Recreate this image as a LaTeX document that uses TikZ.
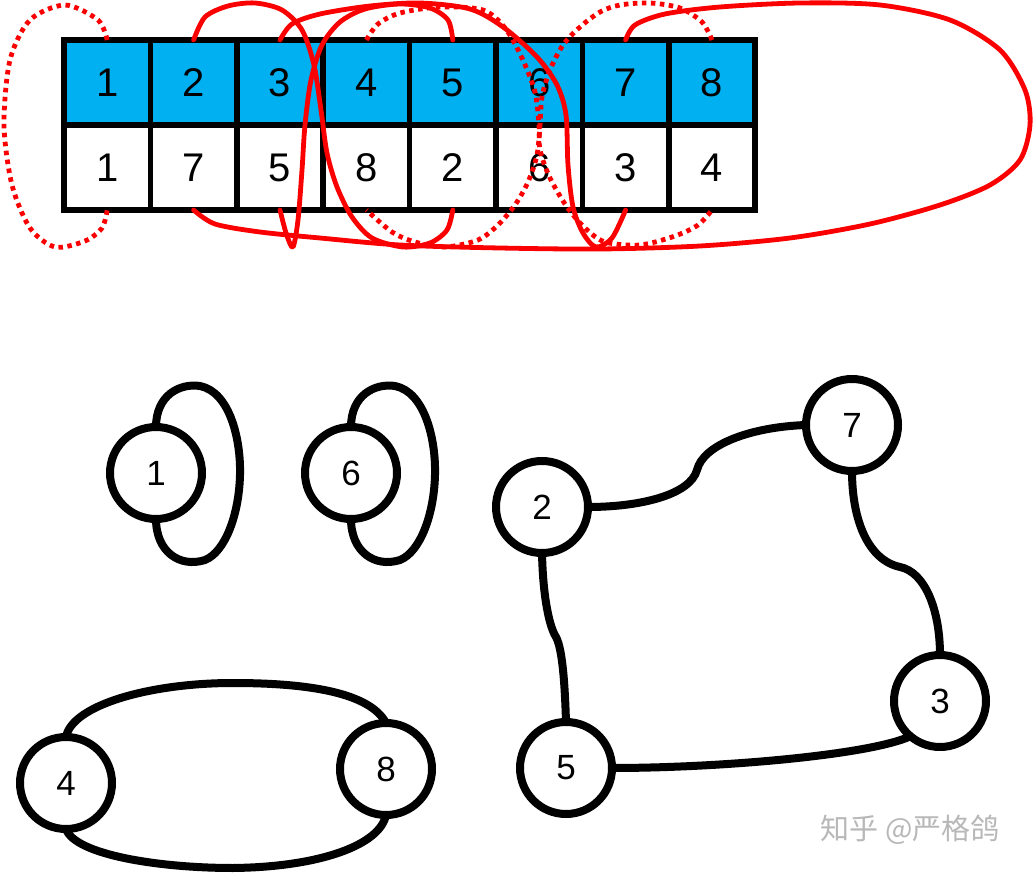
\documentclass[tikz,border=0pt]{standalone}
\usepackage{fontspec}
\setmainfont{Liberation Sans}
\newfontfamily\cjkfont{Noto Sans CJK SC}
\definecolor{cellblue}{RGB}{0,176,240}
\definecolor{loopred}{RGB}{250,0,0}
\begin{document}
\begin{tikzpicture}[x=1pt,y=-1pt,
  cell/.style={draw=black, line width=5.5pt, minimum width=86.4pt, minimum height=85pt, inner sep=0pt, outer sep=0pt, font=\fontsize{40}{42}\selectfont},
  topcell/.style={cell, fill=cellblue},
  botcell/.style={cell, fill=white},
  solidloop/.style={draw=loopred, line width=4.8pt, line cap=round, line join=round},
  dotloop/.style={draw=loopred, line width=4.8pt, dash pattern=on 4.5pt off 4.5pt},
  vert/.style={circle, draw=black, line width=8pt, minimum size=92pt, inner sep=0pt, outer sep=0pt, fill=white, font=\fontsize{35}{37}\selectfont},
  gedge/.style={draw=black, line width=8pt, line cap=round},
]
\useasboundingbox (0,0) rectangle (1034,874);
\fill[white] (0,0) rectangle (1034,874);

% table
\foreach \i/\v in {1/1,2/7,3/5,4/8,5/2,6/6,7/3,8/4} {
  \node[topcell] (t\i) at ({64+86.4*(\i-0.5)},82.5) {\i};
  \node[botcell] (b\i) at ({64+86.4*(\i-0.5)},167.5) {\v};
}

% red cycle curves
\draw[dotloop] plot[smooth] coordinates {(t1.north) (98,20) (65,5) (30,20) (10,60) (4,125) (12,185) (30,228) (55,247) (85,241) (102,228) (b1.south)};
\draw[solidloop] plot[smooth] coordinates {(t2.north) (205,17) (228,6) (255,3) (282,10) (302,30) (314,65) (321,110) (327,153) (337,187) (352,217) (372,238) (403,247) (430,243) (447,230) (b5.south)};
\draw[solidloop] plot[smooth] coordinates {(t5.north) (448,20) (430,8) (400,4) (365,9) (340,22) (322,45) (311,80) (305,125) (302,170) (298,220) (293,247) (287,236) (283,222) (b3.south)};
\draw[solidloop] plot[smooth] coordinates {(t3.north) (292,24) (320,14) (370,6) (420,3) (470,9) (503,27) (537,57) (557,85) (566,115) (568,165) (573,207) (583,233) (596,247) (612,238) (b7.south)};
\draw[solidloop] plot[smooth] coordinates {(t7.north) (635,25) (665,14) (720,7) (800,3) (880,5) (950,20) (1000,50) (1025,90) (1030,125) (1020,160) (990,185) (940,205) (870,224) (790,238) (700,246) (600,249) (500,248) (400,245) (320,238) (260,232) (215,224) (b2.south)};
\draw[dotloop] plot[smooth] coordinates {(t4.north) (378,24) (400,13) (440,7) (483,10) (505,28) (522,58) (535,92) (539,125) (540,150) (550,178) (567,207) (585,228) (605,242) (640,245) (675,236) (698,225) (b8.south)};
\draw[dotloop] plot[smooth] coordinates {(t8.north) (702,22) (680,8) (650,3) (620,5) (600,12) (580,27) (563,45) (550,70) (542,97) (540,125) (537,155) (528,182) (515,205) (498,225) (478,240) (445,247) (415,242) (392,232) (b4.south)};

% cycle graph
\node[vert] (n1) at (156,473) {1};
\node[vert] (n6) at (351,473) {6};
\node[vert] (n2) at (542,507) {2};
\node[vert] (n7) at (852,425) {7};
\node[vert] (n3) at (940,701) {3};
\node[vert] (n5) at (566,768) {5};
\node[vert] (n4) at (66,783) {4};
\node[vert] (n8) at (386,769) {8};

\draw[gedge] (n1.north) .. controls (156,395) and (180,383) .. (200,386) .. controls (230,392) and (241,440) .. (240,475) .. controls (239,515) and (225,552) .. (205,560) .. controls (180,568) and (156,552) .. (n1.south);
\draw[gedge] (n6.north) .. controls (351,395) and (375,383) .. (395,386) .. controls (425,392) and (436,440) .. (435,475) .. controls (434,515) and (420,552) .. (400,560) .. controls (375,568) and (351,552) .. (n6.south);

\draw[gedge] (n2.east) .. controls (640,507) and (690,495) .. (697,470) .. controls (703,445) and (750,427) .. (n7.west);
\draw[gedge] (n7.south) .. controls (852,520) and (868,560) .. (900,567) .. controls (925,572) and (940,610) .. (n3.north);
\draw[gedge] (n3.230) .. controls (870,755) and (720,768) .. (n5.east);
\draw[gedge] (n5.north) .. controls (565,690) and (563,650) .. (556,637) .. controls (550,628) and (543,600) .. (n2.south);

\draw[gedge] (n4.north) .. controls (72,705) and (150,683) .. (233,683) .. controls (310,683) and (370,693) .. (n8.north);
\draw[gedge] (n4.south) .. controls (75,855) and (160,868) .. (233,868) .. controls (320,867) and (380,845) .. (n8.south);

% watermark
\node[text=black!28, font=\cjkfont\fontsize{29}{31}\selectfont, inner sep=0pt] (wm) at (910,830) {知乎 @严格鸽};
\end{tikzpicture}
\end{document}
